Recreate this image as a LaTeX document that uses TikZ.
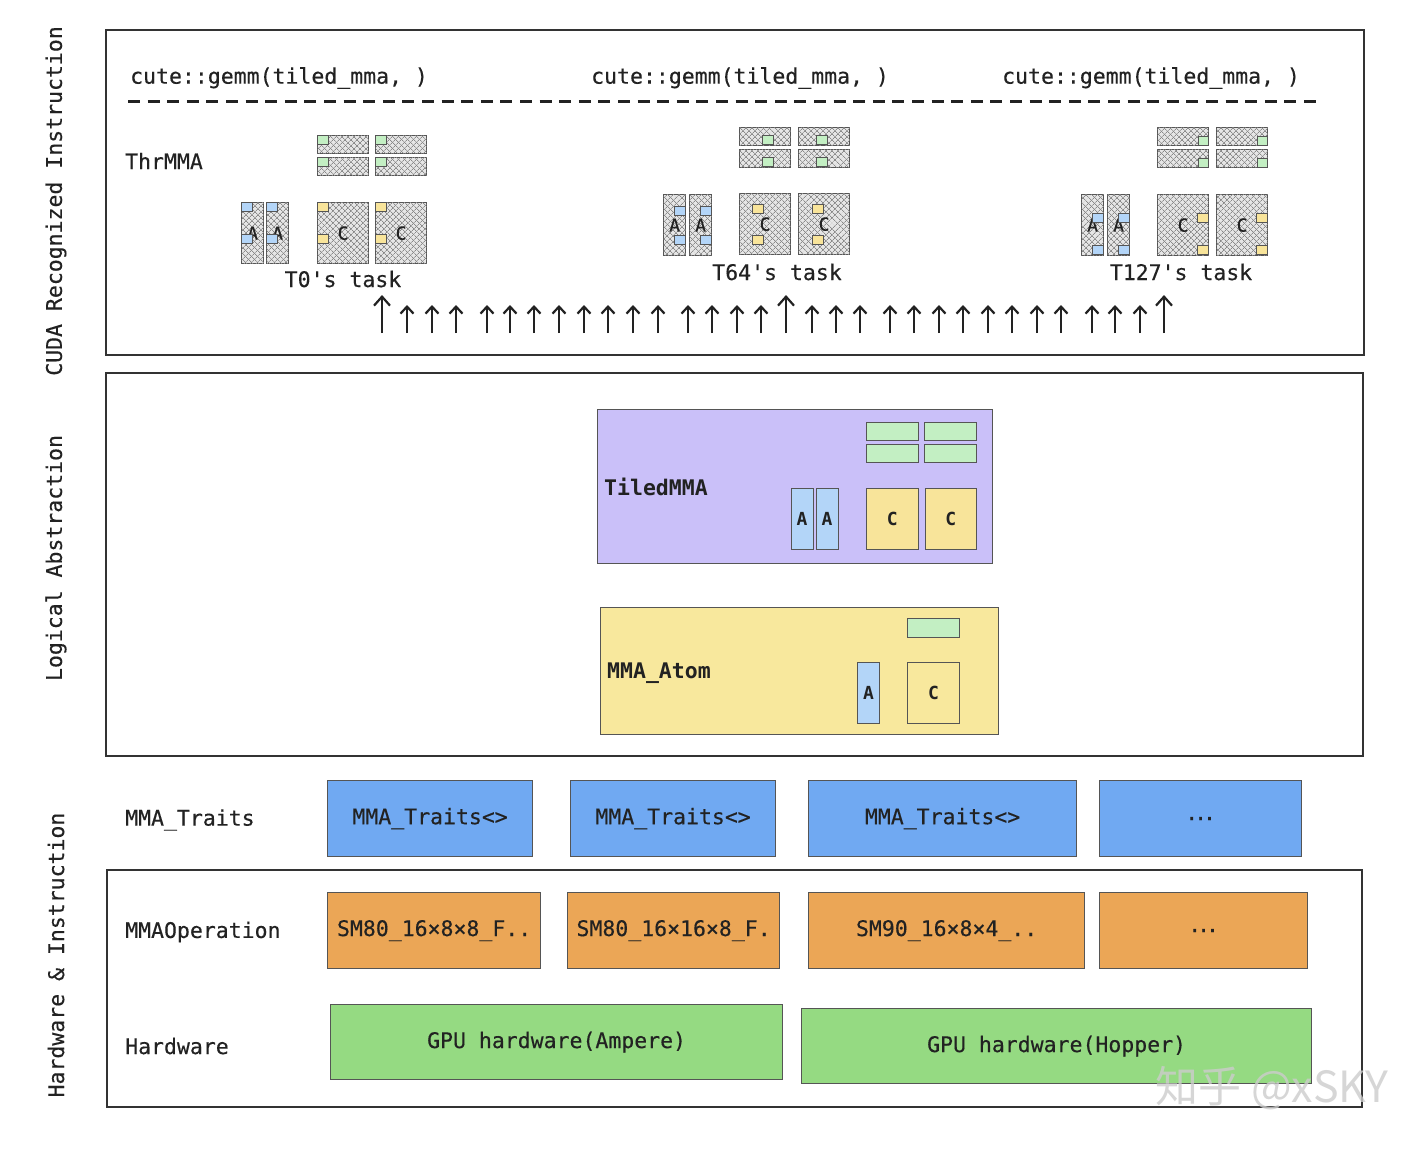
\documentclass[tikz,border=0pt]{standalone}
\usepackage{fontspec}
\newfontfamily\mono[FakeBold=0.3]{DejaVu Sans Mono}
\newfontfamily\monob{DejaVu Sans Mono Bold}
\newfontfamily\cjkfont{Noto Sans CJK SC}
\usetikzlibrary{arrows.meta,patterns.meta}
\definecolor{frame}{HTML}{333333}
\definecolor{edge}{HTML}{555555}
\definecolor{txt}{HTML}{222222}
\definecolor{hatchbg}{HTML}{E6E6E6}
\definecolor{hatchline}{HTML}{8A8A8A}
\definecolor{bgreen}{HTML}{C3EFC3}
\definecolor{ablue}{HTML}{B3D5F8}
\definecolor{cyellow}{HTML}{F8E49A}
\definecolor{tpurple}{HTML}{CAC0F9}
\definecolor{ayellow}{HTML}{F8E89D}
\definecolor{trblue}{HTML}{70A9F2}
\definecolor{oporange}{HTML}{EBA656}
\definecolor{hwgreen}{HTML}{95DA82}
\newcommand{\mydots}{.\kern-4pt.\kern-4pt.}
\tikzset{
  frame/.style={draw=frame, line width=2pt},
  lbl/.style={font=\mono\fontsize{21.5}{26}\selectfont, text=txt, anchor=west, inner sep=0},
  blbl/.style={lbl, font=\monob\fontsize{21.5}{26}\selectfont},
  vlbl/.style={lbl, anchor=center, rotate=90},
  tile/.style={draw=edge, line width=1.2pt, inner sep=0, anchor=north west, text=txt},
  hatch/.style={tile, fill=hatchbg, font=\mono\fontsize{18}{20}\selectfont,
    postaction={pattern={Lines[angle=45,distance=4pt,line width=0.7pt]}, pattern color=hatchline},
    postaction={pattern={Lines[angle=-45,distance=4pt,line width=0.7pt]}, pattern color=hatchline}},
  htileB/.style={hatch, minimum width=51pt, minimum height=18pt},
  htileA/.style={hatch, minimum width=22pt, minimum height=61pt},
  htileC/.style={hatch, minimum width=51pt, minimum height=61pt},
  sqB/.style={draw=edge, line width=1pt, fill=bgreen},
  sqA/.style={draw=edge, line width=1pt, fill=ablue},
  sqC/.style={draw=edge, line width=1pt, fill=cyellow},
  stile/.style={tile, font=\monob\fontsize{18}{20}\selectfont},
  layerbox/.style={draw=edge, line width=1.2pt, inner sep=0, anchor=north west, text=txt,
    font=\mono\fontsize{21.5}{26}\selectfont},
  arr/.style={draw=txt, line width=2.2pt, -{Straight Barb[length=7pt,width=13pt,line width=2.2pt]}},
  bigarr/.style={draw=txt, line width=2.2pt, -{Straight Barb[length=9pt,width=16pt,line width=2.2pt]}},
}
\begin{document}
\begin{tikzpicture}[x=1pt,y=-1pt]
\useasboundingbox (0,0) rectangle (1426,1148);
\fill[white] (0,0) rectangle (1426,1148);

% ---------- outer frames ----------
\draw[frame] (106,30) rectangle (1364,355);
\draw[frame] (106,373) rectangle (1363,756);
\draw[frame] (107,870) rectangle (1362,1107);

\node[vlbl] (v1) at (56,201) {CUDA Recognized Instruction};
\node[vlbl] (v2) at (56,558) {Logical Abstraction};
\node[vlbl] (v3) at (56,955) {Hardware \& Instruction};

% ---------- top section ----------
\node[lbl] (g1) at (130,78) {cute::gemm(tiled\_mma, )};
\node[lbl] (g2) at (591,78) {cute::gemm(tiled\_mma, )};
\node[lbl] (g3) at (1002,78) {cute::gemm(tiled\_mma, )};
\coordinate (dashL) at (128,101);
\coordinate (dashR) at (1318,101);
\draw[txt, line width=3pt, dash pattern=on 12pt off 7.6pt] (dashL) -- (dashR);

\node[lbl] (thr) at (125,161) {ThrMMA};

% T0
\node[htileB] (t0b1) at (317,135) {};
\node[htileB] (t0b2) at (375,135) {};
\node[htileB] (t0b3) at (317,157) {};
\node[htileB] (t0b4) at (375,157) {};
\foreach \x/\y in {317/135,375/135,317/157,375/157}
  \draw[sqB] (\x,\y) rectangle ++(11,9);
\node[htileA] (t0a1) at (241,202) {A};
\node[htileA] (t0a2) at (266,202) {A};
\node[htileC] (t0c1) at (317,202) {C};
\node[htileC] (t0c2) at (375,202) {C};
\foreach \x in {241,266} {
  \draw[sqA] (\x,202) rectangle ++(11,9);
  \draw[sqA] (\x,234) rectangle ++(11,9);}
\foreach \x in {317,375} {
  \draw[sqC] (\x,202) rectangle ++(11,9);
  \draw[sqC] (\x,234) rectangle ++(11,9);}
\node[lbl, anchor=center] (t0l) at (343,279) {T0's task};

% T64
\node[htileB] (t64b1) at (739,127) {};
\node[htileB] (t64b2) at (798,127) {};
\node[htileB] (t64b3) at (739,149) {};
\node[htileB] (t64b4) at (798,149) {};
\foreach \x/\y in {762/135,816/135,762/157,816/157}
  \draw[sqB] (\x,\y) rectangle ++(11,9);
\node[htileA] (t64a1) at (663,194) {A};
\node[htileA] (t64a2) at (689,194) {A};
\node[htileC] (t64c1) at (739,193) {C};
\node[htileC] (t64c2) at (798,193) {C};
\foreach \x in {674,700} {
  \draw[sqA] (\x,206) rectangle ++(11,9);
  \draw[sqA] (\x,235) rectangle ++(11,9);}
\foreach \x in {752,812} {
  \draw[sqC] (\x,204) rectangle ++(11,9);
  \draw[sqC] (\x,235) rectangle ++(11,9);}
\node[lbl, anchor=center] (t64l) at (777,272) {T64's task};

% T127
\node[htileB] (t127b1) at (1157,127) {};
\node[htileB] (t127b2) at (1216,127) {};
\node[htileB] (t127b3) at (1157,149) {};
\node[htileB] (t127b4) at (1216,149) {};
\foreach \x/\y in {1198/136,1257/136,1198/158,1257/158}
  \draw[sqB] (\x,\y) rectangle ++(10,9);
\node[htileA] (t127a1) at (1081,194) {A};
\node[htileA] (t127a2) at (1107,194) {A};
\node[htileC] (t127c1) at (1157,194) {C};
\node[htileC] (t127c2) at (1216,194) {C};
\foreach \x in {1092,1118} {
  \draw[sqA] (\x,213) rectangle ++(11,9);
  \draw[sqA] (\x,245) rectangle ++(11,9);}
\foreach \x in {1197,1256} {
  \draw[sqC] (\x,213) rectangle ++(11,9);
  \draw[sqC] (\x,245) rectangle ++(11,9);}
\node[lbl, anchor=center] (t127l) at (1181,272) {T127's task};

% arrows
\foreach \x in {407,432,456,487,510,534,559,584,608,633,658,688,712,737,761,812,836,860,890,914,939,963,988,1012,1037,1061,1092,1115,1140} {
  \coordinate (ab\x) at (\x,333);
  \coordinate (at\x) at (\x,305);
  \draw[arr] (ab\x) -- (at\x);}
\foreach \x in {382,786,1164} {
  \coordinate (ab\x) at (\x,333);
  \coordinate (at\x) at (\x,295);
  \draw[bigarr] (ab\x) -- (at\x);}

% ---------- middle section ----------
\node[layerbox, fill=tpurple, minimum width=395pt, minimum height=154pt] (tiled) at (597,409) {};
\node[blbl] (tiledl) at (604,487) {TiledMMA};
\node[stile, fill=bgreen, minimum width=52pt, minimum height=18pt] (tb1) at (866,422) {};
\node[stile, fill=bgreen, minimum width=52pt, minimum height=18pt] (tb2) at (924,422) {};
\node[stile, fill=bgreen, minimum width=52pt, minimum height=18pt] (tb3) at (866,444) {};
\node[stile, fill=bgreen, minimum width=52pt, minimum height=18pt] (tb4) at (924,444) {};
\node[stile, fill=ablue, minimum width=22pt, minimum height=61pt] (ta1) at (790.5,488) {A};
\node[stile, fill=ablue, minimum width=22pt, minimum height=61pt] (ta2) at (815.5,488) {A};
\node[stile, fill=cyellow, minimum width=51.5pt, minimum height=61pt] (tc1) at (866,488) {C};
\node[stile, fill=cyellow, minimum width=51.5pt, minimum height=61pt] (tc2) at (924.5,488) {C};

\node[layerbox, fill=ayellow, minimum width=398pt, minimum height=127pt] (atom) at (600,607) {};
\node[blbl] (atoml) at (607,673) {MMA\_Atom};
\node[stile, fill=bgreen, minimum width=52pt, minimum height=19pt] (ab) at (907,618) {};
\node[stile, fill=ablue, minimum width=22pt, minimum height=61pt] (aa) at (857,662) {A};
\node[stile, fill=ayellow, minimum width=52pt, minimum height=61pt] (ac) at (907,662) {C};

% ---------- bottom section ----------
\node[lbl] (ltr) at (125,820) {MMA\_Traits};
\node[lbl] (lop) at (125,932) {MMAOperation};
\node[lbl] (lhw) at (125,1046) {Hardware};

\node[layerbox, fill=trblue, minimum width=205pt, minimum height=76pt] (tr1) at (327,780) {MMA\_Traits<>};
\node[layerbox, fill=trblue, minimum width=205pt, minimum height=76pt] (tr2) at (570,780) {MMA\_Traits<>};
\node[layerbox, fill=trblue, minimum width=268pt, minimum height=76pt] (tr3) at (808,780) {MMA\_Traits<>};
\node[layerbox, fill=trblue, minimum width=202pt, minimum height=76pt] (tr4) at (1099,780) {\mydots};

\node[layerbox, fill=oporange, minimum width=213pt, minimum height=76pt] (op1) at (327,892) {SM80\_16×8×8\_F..};
\node[layerbox, fill=oporange, minimum width=212pt, minimum height=76pt] (op2) at (567,892) {SM80\_16×16×8\_F.};
\node[layerbox, fill=oporange, minimum width=276pt, minimum height=76pt] (op3) at (808,892) {SM90\_16×8×4\_..};
\node[layerbox, fill=oporange, minimum width=208pt, minimum height=76pt] (op4) at (1099,892) {\mydots};

\node[layerbox, fill=hwgreen, minimum width=452pt, minimum height=75pt] (hw1) at (330,1004) {GPU hardware(Ampere)};
\node[layerbox, fill=hwgreen, minimum width=510pt, minimum height=75pt] (hw2) at (801,1008) {GPU hardware(Hopper)};

% watermark
\node[font=\cjkfont\fontsize{43}{46}\selectfont, text=gray!40, opacity=0.8, inner sep=0] (wm) at (1272,1088) {知乎 @xSKY};
\end{tikzpicture}
\end{document}
